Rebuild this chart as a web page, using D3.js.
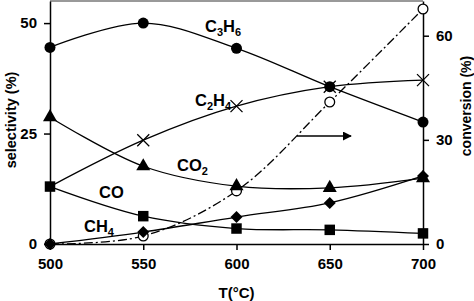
<!DOCTYPE html>
<html>
<head>
<meta charset="utf-8">
<script src="https://cdn.jsdelivr.net/npm/d3@7"></script>
<style>
body { margin: 0; background: #fff; }
text { font-family: "Liberation Sans", Arial, sans-serif; font-weight: bold; }
</style>
</head>
<body>
<svg id="chart"></svg>
<script>
const temps = [500, 550, 600, 650, 700];
const c3h6 = [44.5, 50, 44.3, 35.6, 27.6];
const c2h4 = [13, 23.5, 31.2, 35.6, 37.1];
const co2 = [28.7, 17.6, 13.1, 12.7, 14.9];
const co = [13, 6.3, 3.5, 3.2, 2.4];
const ch4 = [0, 2.7, 6.1, 9.3, 15.4];
const conversion = [0, 2.3, 15.3, 40.9, 67.7];
const leftTicks = [0, 25, 50];
const rightTicks = [0, 30, 60];

const W = 474, H = 301;
const m = {left: 50, right: 51, top: 1, bottom: 57};

const svg = d3.select('#chart')
  .attr('width', W)
  .attr('height', H);

const x = d3.scaleLinear().domain([500, 700]).range([m.left, W - m.right]);
const yL = d3.scaleLinear().domain([0, 55]).range([H - m.bottom, m.top]);
const yR = d3.scaleLinear().domain([0, 70]).range([H - m.bottom, m.top]);

// top border
svg.append('line')
  .attr('x1', m.left).attr('x2', W - m.right)
  .attr('y1', m.top).attr('y2', m.top)
  .attr('stroke', '#999').attr('stroke-width', 2);

const axisStyle = g => {
  g.selectAll('path').attr('stroke', '#000').attr('stroke-width', 1.5);
  g.selectAll('line').attr('stroke', '#000').attr('stroke-width', 1.5);
  g.selectAll('text').attr('font-size', 15).attr('fill', '#000');
};

svg.append('g')
  .attr('transform', `translate(0,${H - m.bottom})`)
  .call(d3.axisBottom(x).tickValues(temps).tickSize(6).tickSizeOuter(0).tickPadding(8))
  .call(axisStyle);

svg.append('g')
  .attr('transform', `translate(${m.left},0)`)
  .call(d3.axisLeft(yL).tickValues(leftTicks).tickSize(6).tickSizeOuter(0).tickPadding(7))
  .call(axisStyle);

svg.append('g')
  .attr('transform', `translate(${W - m.right},0)`)
  .call(d3.axisRight(yR).tickValues(rightTicks).tickSize(6).tickSizeOuter(0).tickPadding(7))
  .call(axisStyle);

// axis titles
svg.append('text')
  .attr('x', x(600)).attr('y', 298)
  .attr('text-anchor', 'middle').attr('font-size', 15)
  .text('T(°C)');
svg.append('text')
  .attr('transform', `translate(16,120) rotate(-90)`)
  .attr('text-anchor', 'middle').attr('font-size', 14.5)
  .text('selectivity (%)');
svg.append('text')
  .attr('transform', `translate(471,106) rotate(-90)`)
  .attr('text-anchor', 'middle').attr('font-size', 14)
  .text('conversion (%)');

const lineL = d3.line().x((d, i) => x(temps[i])).y(d => yL(d)).curve(d3.curveCatmullRom.alpha(0.5));
const lineR = d3.line().x((d, i) => x(temps[i])).y(d => yR(d)).curve(d3.curveCatmullRom.alpha(0.5));

[c3h6, c2h4, co2, co, ch4].forEach(s => {
  svg.append('path').attr('d', lineL(s))
    .attr('fill', 'none').attr('stroke', '#000').attr('stroke-width', 1.3);
});
svg.append('path').attr('d', lineR(conversion))
  .attr('fill', 'none').attr('stroke', '#000').attr('stroke-width', 1.3)
  .attr('stroke-dasharray', '9,3,2,3');

const sym = (type, size) => d3.symbol().type(type).size(size)();

function markers(vals, scale, type, size, filled) {
  svg.append('g').selectAll('path')
    .data(vals)
    .enter()
    .append('path')
    .attr('transform', (d, i) => `translate(${x(temps[i])},${scale(d)})`)
    .attr('d', sym(type, size))
    .attr('fill', filled ? '#000' : '#fff')
    .attr('stroke', '#000')
    .attr('stroke-width', filled ? 0 : 1.3);
}

markers(conversion, yR, d3.symbolCircle, 75, false);
markers(c3h6, yL, d3.symbolCircle, 95, true);
markers(co2, yL, d3.symbolTriangle, 85, true);
markers(co, yL, d3.symbolSquare, 110, true);

// diamonds
svg.append('g').selectAll('path')
  .data(ch4)
  .enter()
  .append('path')
  .attr('transform', (d, i) => `translate(${x(temps[i])},${yL(d)})`)
  .attr('d', 'M0,-6L6,0L0,6L-6,0Z')
  .attr('fill', '#000');

// x marks
svg.append('g').selectAll('path')
  .data(c2h4.slice(1))
  .enter()
  .append('path')
  .attr('transform', (d, i) => `translate(${x(temps[i + 1])},${yL(d)})`)
  .attr('d', 'M-6,-6L6,6M-6,6L6,-6')
  .attr('stroke', '#000').attr('stroke-width', 1.3).attr('fill', 'none');

// series labels: parts alternate normal / subscript
function label(px, py, parts) {
  const t = svg.append('text').attr('x', px).attr('y', py).attr('font-size', 16.5);
  parts.forEach((p, i) => {
    const sub = i % 2 === 1;
    t.append('tspan')
      .attr('font-size', sub ? 11 : 16.5)
      .attr('dy', i === 0 ? 0 : (sub ? 4 : -4))
      .text(p);
  });
}
label(205, 32, ['C', '3', 'H', '6']);
label(195, 106, ['C', '2', 'H', '4']);
label(177, 171, ['CO', '2']);
label(99, 198, ['CO']);
label(84, 232, ['CH', '4']);

// arrow
svg.append('defs').append('marker')
  .attr('id', 'ah').attr('viewBox', '0 0 10 10')
  .attr('refX', 9).attr('refY', 5)
  .attr('markerWidth', 9).attr('markerHeight', 9)
  .attr('markerUnits', 'userSpaceOnUse')
  .attr('orient', 'auto')
  .append('path').attr('d', 'M0,0L10,5L0,10Z').attr('fill', '#000');
svg.append('line')
  .attr('x1', 297).attr('x2', 351).attr('y1', 136).attr('y2', 136)
  .attr('stroke', '#000').attr('stroke-width', 1.3)
  .attr('marker-end', 'url(#ah)');
</script>
</body>
</html>
